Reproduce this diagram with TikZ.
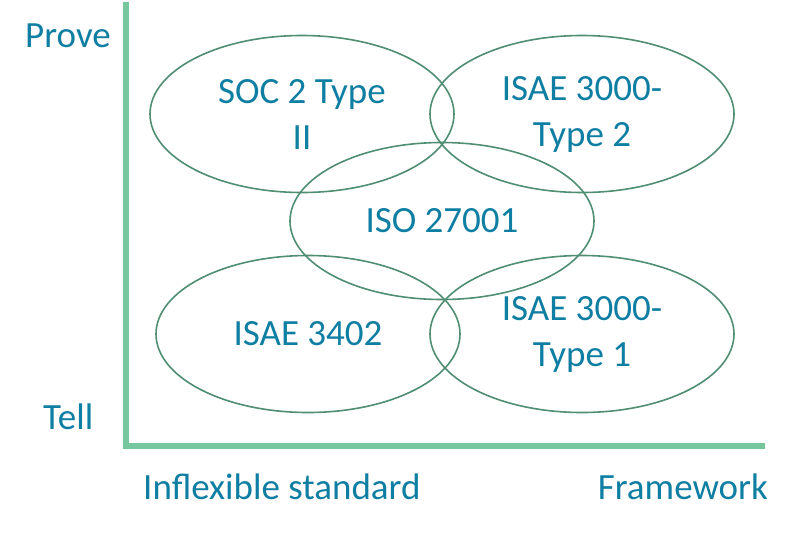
\documentclass[tikz,border=0pt]{standalone}
\usepackage{fontspec}
\setmainfont{Carlito}
\usetikzlibrary{shapes.geometric}

\definecolor{labelblue}{HTML}{0F7EA3}
\definecolor{ringgreen}{HTML}{4F8E72}
\definecolor{axisgreen}{HTML}{76C79E}

\tikzset{
  scheme/.style={draw=ringgreen, line width=1.6pt, ellipse, minimum width=304pt,
    minimum height=157pt, inner sep=0pt, align=center, text=labelblue},
  axislabel/.style={inner sep=0pt, text=labelblue},
  axisline/.style={draw=axisgreen, line width=6pt, line join=miter}
}

\begin{document}
\begin{tikzpicture}[x=1pt,y=-1pt,font=\fontsize{37}{46}\selectfont]
    \useasboundingbox (0,0) rectangle (792,533);

    % axes
    \coordinate (top) at (126,2);
    \coordinate (right) at (765,446);
    \draw[axisline] (top) |- (right);

    \node[axislabel,anchor=base west] (prove) at (25,47) {Prove};
    \node[axislabel,anchor=base west] (tell) at (43,429) {Tell};
    \node[axislabel,anchor=base west] (inflexible) at (143,499) {Inflexible standard};
    \node[axislabel,anchor=base east] (framework) at (768,499) {Framework};

    % the five schemes
    \node[scheme] (soc) at (302,114) {SOC 2 Type\\II};
    \node[scheme] (isaetwo) at (582,114) {ISAE 3000-\\Type 2};
    \node[scheme] (iso) at (442,221) {ISO 27001};
    \node[scheme] (isae3402) at (308,334) {ISAE 3402};
    \node[scheme] (isaeone) at (582,334) {ISAE 3000-\\Type 1};
\end{tikzpicture}
\end{document}
